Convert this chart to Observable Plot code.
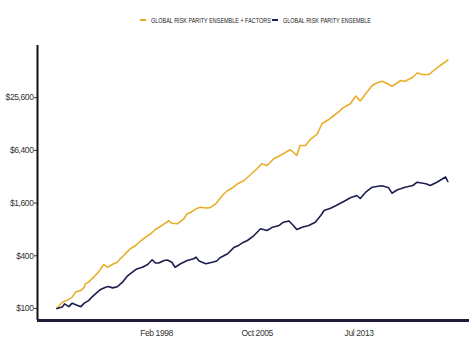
<!DOCTYPE html>
<html><head><meta charset="utf-8">
<script src="https://cdn.jsdelivr.net/npm/d3@7"></script>
<script src="https://cdn.jsdelivr.net/npm/@observablehq/plot@0.6"></script>
<style>
body{margin:0;background:#fff;width:474px;height:352px;overflow:hidden;font-family:"Liberation Sans",Arial,sans-serif;}
#legend{position:relative;height:35px;}
.item{position:absolute;top:17px;font-size:7px;color:#222;line-height:8px;white-space:nowrap;}
.sw{display:inline-block;width:6px;height:2px;vertical-align:middle;margin-right:5px;position:relative;top:-1px;}
.txt{display:inline-block;transform:scaleX(0.78);transform-origin:0 50%;}
svg text{letter-spacing:-0.4px;}
</style></head><body>
<div id="legend"></div>
<div id="chart"></div>
<script>
const seriesNames = ["GLOBAL RISK PARITY ENSEMBLE + FACTORS", "GLOBAL RISK PARITY ENSEMBLE"];
const seriesColors = ["#e8ae2a", "#1c1e4e"];

const factorsDates = ["1990-07","1990-12","1991-04","1991-09","1991-12","1992-05","1992-08","1992-09","1992-12","1993-03","1993-06","1993-09","1993-12","1994-02","1994-05","1994-08","1994-11","1995-02","1995-05","1995-08","1995-11","1996-02","1996-07","1996-11","1997-04","1997-09","1998-01","1998-06","1998-09","1998-12","1999-01","1999-04","1999-09","2000-03","2000-06","2000-09","2001-02","2001-06","2001-11","2002-03","2002-08","2002-12","2003-03","2003-07","2003-10","2004-04","2004-10","2005-04","2005-10","2006-02","2006-07","2007-01","2007-07","2007-12","2008-04","2008-07","2008-10","2009-01","2009-06","2009-11","2010-05","2010-09","2011-03","2011-08","2011-12","2012-05","2012-11","2013-04","2013-08","2014-01","2014-07","2014-11","2015-04","2015-09","2016-01","2016-05","2016-09","2017-01","2017-08","2017-12","2018-05","2018-11","2019-03","2019-09","2020-01","2020-04"];
const factorsValues = [100,118,123,135,154,161,174,192,200,218,238,260,296,318,296,310,324,338,370,403,440,481,525,583,653,719,799,876,928,973,1012,943,928,1059,1208,1250,1377,1437,1407,1420,1571,1806,2006,2229,2331,2659,2900,3396,3977,4499,4302,5131,5596,6104,6502,6104,5596,7281,7281,8685,9906,12890,14320,16030,17480,19940,21810,26770,23470,28360,35290,37690,39490,36900,34650,37190,40230,39490,43880,49010,47120,47120,52350,59690,64600,69340];

const ensembleDates = ["1990-07","1990-12","1991-02","1991-06","1991-09","1992-02","1992-05","1992-08","1992-12","1993-03","1993-08","1993-11","1994-03","1994-06","1994-10","1995-02","1995-07","1995-11","1996-04","1996-08","1997-01","1997-06","1997-10","1998-01","1998-04","1998-09","1998-12","1999-04","1999-07","1999-12","2000-06","2000-12","2001-02","2001-05","2001-11","2002-05","2002-09","2002-12","2003-07","2004-01","2004-05","2004-09","2005-01","2005-07","2006-01","2006-07","2006-12","2007-06","2007-10","2008-03","2008-07","2008-10","2009-03","2009-09","2010-03","2010-08","2010-11","2011-05","2011-10","2012-05","2012-11","2013-05","2013-08","2014-01","2014-07","2014-11","2015-04","2015-10","2016-01","2016-06","2016-09","2017-01","2017-08","2017-12","2018-08","2018-12","2019-06","2020-02","2020-04"];
const ensembleValues = [100,104,113,105,115,108,105,115,123,135,154,165,174,178,172,177,200,232,260,283,296,318,360,331,331,354,358,338,296,324,354,370,386,349,324,338,349,380,422,502,525,568,598,682,814,778,849,888,968,999,888,799,849,888,968,1155,1317,1399,1502,1669,1840,1954,1806,2131,2431,2476,2522,2393,2076,2270,2331,2431,2542,2773,2659,2542,2773,3179,2824];

const yTicks = [100, 400, 1600, 6400, 25600];
const xTickDates = ["1998-02", "2005-10", "2013-07"];
const xDomain = ["1989-01-10", "2021-11-25"];
const yDomain = [72.9, 101100];

const parseM = d3.utcParse("%Y-%m");
const parseD = d3.utcParse("%Y-%m-%d");
const rows = [];
factorsDates.forEach((d, i) => rows.push({date: parseM(d), value: factorsValues[i], series: seriesNames[0]}));
ensembleDates.forEach((d, i) => rows.push({date: parseM(d), value: ensembleValues[i], series: seriesNames[1]}));
const xStart = parseD(xDomain[0]), xEnd = parseD(xDomain[1]);
const money = d => "$" + d3.format(",")(d);

// legend
const legend = document.getElementById("legend");
const lefts = [140, 272];
seriesNames.forEach((n, i) => {
  const it = document.createElement("div");
  it.className = "item";
  it.style.left = lefts[i] + "px";
  const sw = document.createElement("span");
  sw.className = "sw";
  sw.style.background = seriesColors[i];
  it.appendChild(sw);
  const t = document.createElement("span");
  t.className = "txt";
  t.textContent = n;
  it.appendChild(t);
  legend.appendChild(it);
});

const chart = Plot.plot({
  width: 474,
  height: 317,
  marginTop: 10,
  marginBottom: 32,
  marginLeft: 37,
  marginRight: 5,
  style: {fontFamily: '"Liberation Sans",Arial,sans-serif', fontSize: "8.5px", color: "#333", background: "white"},
  x: {type: "utc", domain: [xStart, xEnd]},
  y: {type: "log", domain: yDomain},
  color: {domain: seriesNames, range: seriesColors},
  marks: [
    Plot.axisY(yTicks, {tickFormat: () => "", tickSize: 3, label: null}),
    Plot.text(yTicks, {y: d => d, frameAnchor: "left", dx: -4, textAnchor: "end", text: money, fill: "#333"}),
    Plot.axisX(xTickDates.map(parseM), {tickFormat: d3.utcFormat("%b %Y"), tickSize: 0, tickPadding: 9, label: null}),
    Plot.lineY(rows, {x: "date", y: "value", z: "series", stroke: "series", strokeWidth: 1.6}),
    Plot.ruleX([xStart], {stroke: "#111", strokeWidth: 2}),
    Plot.ruleY([yDomain[0]], {stroke: "#1c1e3a", strokeWidth: 3})
  ]
});
document.getElementById("chart").appendChild(chart);
</script>
</body></html>
